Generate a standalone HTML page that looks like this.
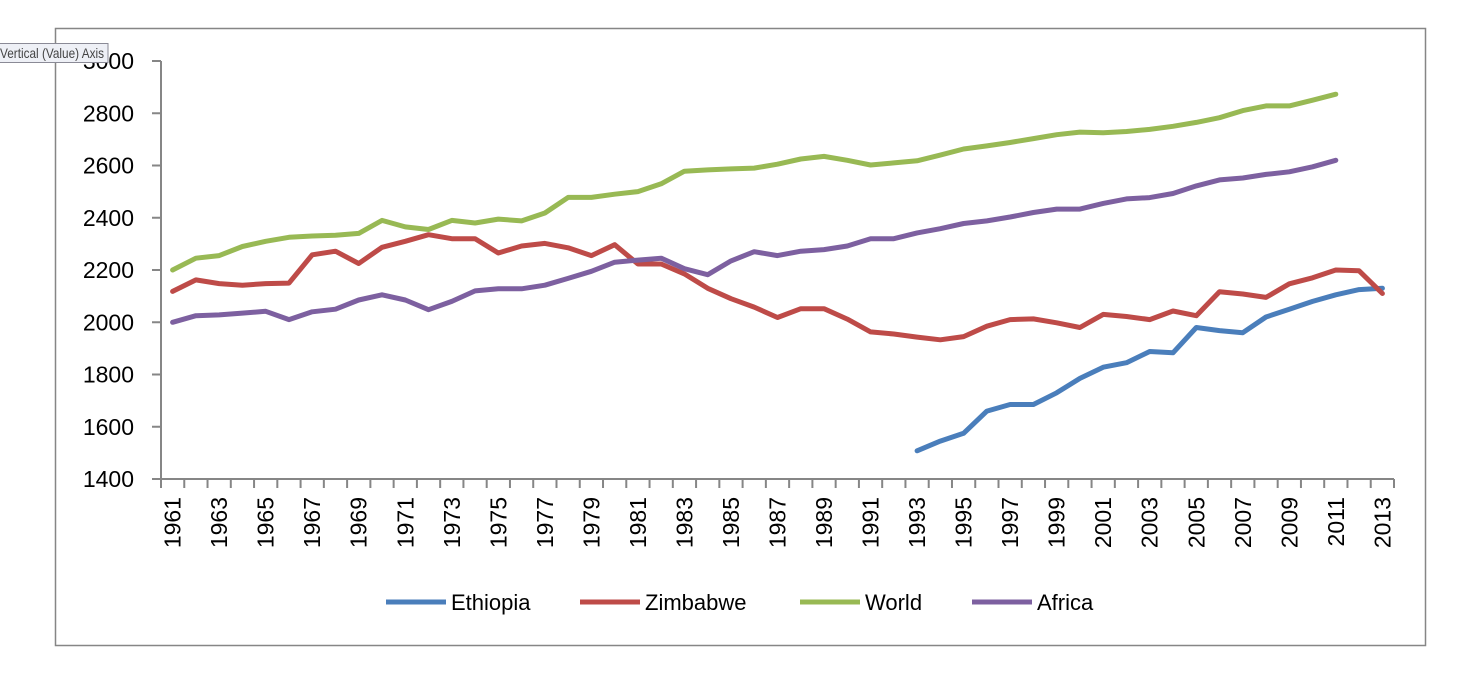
<!DOCTYPE html>
<html><head><meta charset="utf-8"><style>
body{margin:0;background:#fff;}
svg{display:block;font-family:"Liberation Sans",sans-serif;}
</style></head><body>
<svg id="s" width="1481" height="682" xmlns="http://www.w3.org/2000/svg">
<rect x="55.5" y="28.5" width="1370" height="617" fill="#fff" stroke="#868686" stroke-width="1.5"/>
</svg>
<script>
const s=document.getElementById('s');const NS='http://www.w3.org/2000/svg';
function el(t,a,txt){const e=document.createElementNS(NS,t);for(const k in a)e.setAttribute(k,a[k]);if(txt!==undefined)e.textContent=txt;s.appendChild(e);return e;}
const x0=161,x1=1394,n=53,dx=(x1-x0)/n;
const Y=v=>479-(v-1400)/1600*418;
const X=i=>x0+dx*(i+0.5);
let g='';
for(let v=1400;v<=3000;v+=200){const y=Y(v);g+=`M152 ${y}H161`;el('text',{x:134,y:y+8,'text-anchor':'end','font-size':23,fill:'#000'},v);}
el('path',{d:`M161 61V479M161 479H${x1}`+g,stroke:'#868686','stroke-width':2,fill:'none'});
let t='';for(let i=0;i<=n;i++){const x=x0+dx*i;t+=`M${x} 479V488`;}
el('path',{d:t,stroke:'#868686','stroke-width':2,fill:'none'});
for(let i=0;i<n;i+=2){const x=X(i);el('text',{x:0,y:0,transform:`translate(${x+8},497) rotate(-90)`,'text-anchor':'end','font-size':23,fill:'#000'},1961+i);}
const W=[2200,2245,2255,2290,2310,2325,2330,2333,2340,2390,2365,2355,2390,2380,2395,2388,2418,2478,2478,2490,2500,2530,2578,2583,2587,2590,2605,2625,2635,2620,2602,2610,2618,2640,2663,2675,2688,2703,2718,2728,2725,2730,2738,2750,2765,2783,2810,2828,2828,2850,2873];
const A=[2000,2025,2028,2035,2042,2010,2040,2050,2085,2105,2085,2048,2080,2120,2128,2128,2142,2168,2195,2230,2238,2245,2205,2182,2235,2270,2255,2272,2278,2292,2320,2320,2342,2358,2378,2388,2403,2420,2433,2433,2455,2472,2477,2493,2522,2545,2552,2566,2576,2595,2620];
const Z=[2118,2162,2148,2142,2148,2150,2258,2272,2225,2287,2310,2335,2320,2320,2265,2292,2302,2285,2255,2297,2223,2223,2185,2130,2090,2058,2018,2052,2052,2012,1963,1955,1943,1933,1945,1985,2010,2013,1998,1980,2030,2022,2010,2043,2025,2117,2108,2095,2147,2170,2200,2197,2110];
const E=[1508,1545,1575,1660,1685,1685,1730,1785,1828,1845,1888,1883,1980,1968,1960,2020,2050,2080,2105,2125,2130];
function line(d,off,c){el('path',{d:d.map((v,i)=>(i?'L':'M')+X(i+off).toFixed(1)+' '+Y(v).toFixed(1)).join(''),stroke:c,'stroke-width':5,fill:'none','stroke-linejoin':'round','stroke-linecap':'round'});}
line(E,32,'#4a7ebb');line(Z,0,'#be4b48');line(W,0,'#98b954');line(A,0,'#7d60a0');
[[386,'Ethiopia','#4a7ebb'],[580,'Zimbabwe','#be4b48'],[800,'World','#98b954'],[972,'Africa','#7d60a0']].forEach(([x,l,c])=>{el('path',{d:`M${x} 602H${x+60}`,stroke:c,'stroke-width':5});el('text',{x:x+65,y:610,'font-size':22,fill:'#000'},l);});
el('rect',{x:-2,y:43.5,width:110,height:19,fill:'#eef0f6',stroke:'#8a8a96'});
el('text',{x:0,y:58,'font-size':14,fill:'#444',textLength:104,lengthAdjust:'spacingAndGlyphs'},'Vertical (Value) Axis');
</script>
</body></html>
